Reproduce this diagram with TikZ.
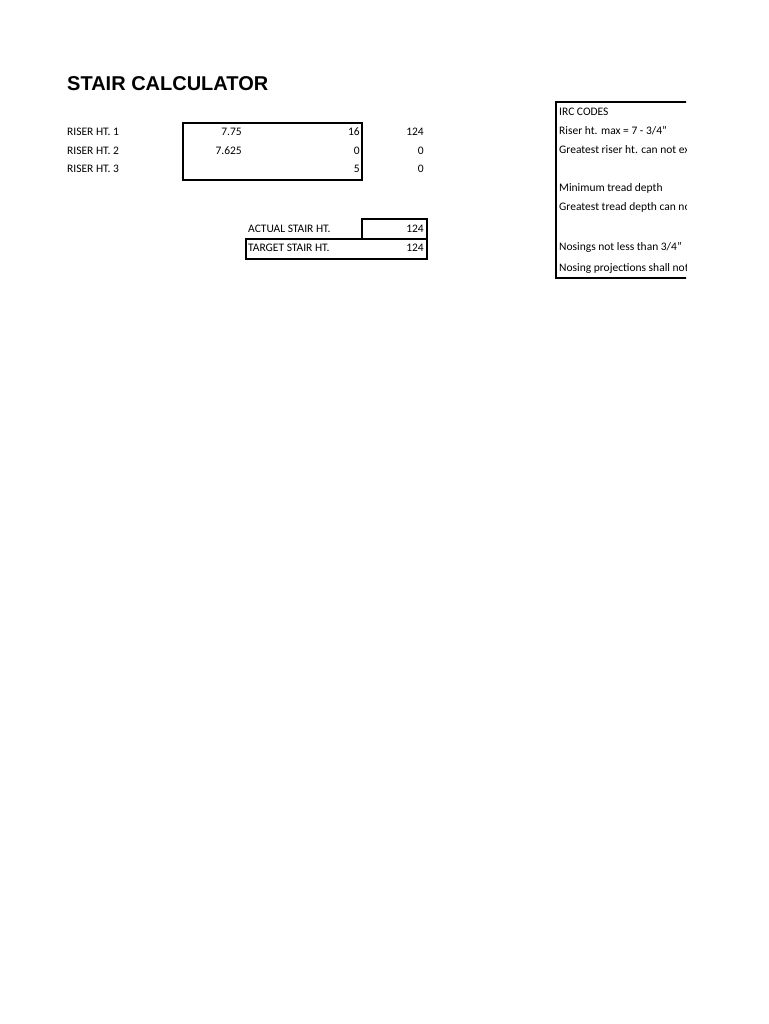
\documentclass[tikz,border=0pt]{standalone}
\usepackage{fontspec}
\setmainfont{Carlito}
\newfontfamily\titlefont{Liberation Sans}
\begin{document}
\begin{tikzpicture}[x=1pt,y=-1pt,
  txt/.style={inner sep=0pt,font=\fontsize{11.5}{13}\selectfont},
  lt/.style={txt,anchor=west},
  rt/.style={txt,anchor=east},
  frame/.style={draw,line width=2.5pt}]
\useasboundingbox (0,0) rectangle (768,1024);
\fill[white] (0,0) rectangle (768,1024);
\node[anchor=west,inner sep=0pt,font=\titlefont\bfseries\fontsize{20}{22}\selectfont] (title) at (67,84) {STAIR CALCULATOR};
\node[lt] (l1) at (67,132) {RISER HT. 1};
\node[lt] (l2) at (67,151) {RISER HT. 2};
\node[lt] (l3) at (67,169) {RISER HT. 3};
\draw[frame] (183,123) rectangle (362,180);
\node[rt] (a1) at (242,132) {7.75};
\node[rt] (a2) at (242,151) {7.625};
\node[rt] (b1) at (360,132) {16};
\node[rt] (b2) at (360,151) {0};
\node[rt] (b3) at (360,169) {5};
\node[rt] (c1) at (424,132) {124};
\node[rt] (c2) at (424,151) {0};
\node[rt] (c3) at (424,169) {0};
\node[lt] (act) at (248,229) {ACTUAL STAIR HT.};
\draw[frame] (362,219) rectangle (427,239);
\node[rt] (actv) at (424,229) {124};
\draw[frame] (246,239) rectangle (427,259);
\node[lt] (tgt) at (248,248) {TARGET STAIR HT.};
\node[rt] (tgtv) at (424,248) {124};
\begin{scope}
\clip (540,90) rectangle (686,290);
\draw[frame] (556,102) rectangle (720,278);
\node[lt] (irc) at (559,112) {IRC CODES};
\node[lt] (r1) at (559,131) {Riser ht. max = 7 - 3/4" };
\node[lt] (r2) at (559,150) {Greatest riser ht. can not exceed};
\node[lt] (r3) at (559,188) {Minimum tread depth};
\node[lt] (r4) at (559,207) {Greatest tread depth can not exceed};
\node[lt] (r5) at (559,247) {Nosings not less than 3/4"};
\node[lt] (r6) at (559,268) {Nosing projections shall not exceed};
\end{scope}
\end{tikzpicture}
\end{document}
